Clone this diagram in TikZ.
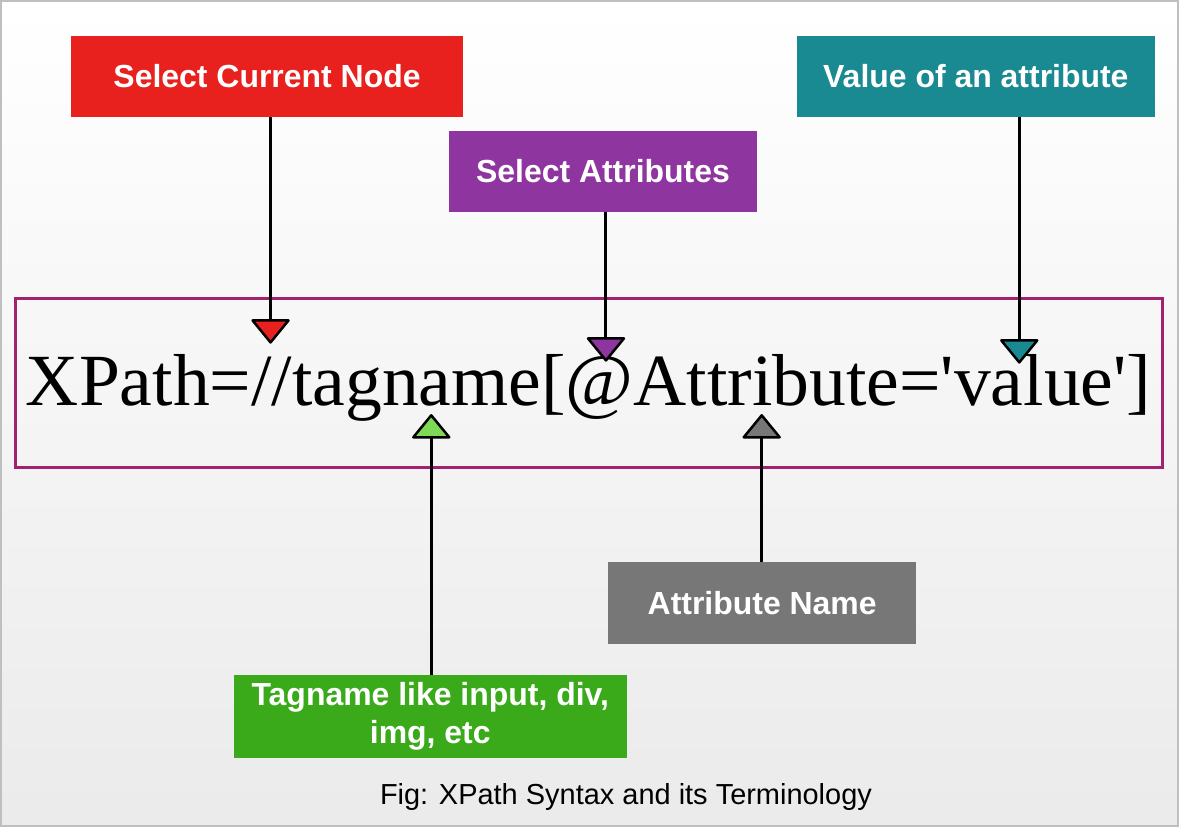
\documentclass[tikz,border=0pt]{standalone}
\usepackage{fontspec}
\setsansfont{Liberation Sans}
\newfontfamily\xpf{Liberation Serif}
\usepackage{graphicx}
\definecolor{cred}{HTML}{E8211F}
\definecolor{cpurple}{HTML}{8E35A0}
\definecolor{cteal}{HTML}{1A8A92}
\definecolor{cgray}{HTML}{777777}
\definecolor{cgreen}{HTML}{3AAA1A}
\definecolor{clgreen}{HTML}{7ED957}
\definecolor{cmag}{HTML}{A3226F}
\begin{document}
\begin{tikzpicture}[x=1pt,y=-1pt,
  lbl/.style={fill=#1,text=white,font=\sffamily\bfseries\fontsize{32}{38}\selectfont,inner sep=0pt,align=center},
  conn/.style={line width=3pt},
  tri/.style={fill=#1,draw=black,line width=2.5pt,line join=round}]
\shade[top color=white,bottom color=black!8] (0,0) rectangle (1179,826);
\draw[black!25,line width=2pt] (0,0) rectangle (1179,826);
\useasboundingbox (0,0) rectangle (1179,826);
\node[lbl=cred,minimum width=393pt,minimum height=81pt] (red) at (266.5,75.5) {Select Current Node};
\node[lbl=cpurple,minimum width=308pt,minimum height=81pt] (pur) at (603,170.5) {Select Attributes};
\node[lbl=cteal,minimum width=359pt,minimum height=81pt] (teal) at (976.5,75.5) {Value of an attribute};
\node[lbl=cgray,minimum width=309pt,minimum height=82pt] (gray) at (762.5,603) {Attribute Name};
\node[lbl=cgreen,minimum width=394pt,minimum height=83pt] (green) at (430,716.5) {Tagname like input, div,\\[0pt] img, etc};
\node[draw=cmag,line width=3pt,minimum width=1148pt,minimum height=169pt,inner sep=0pt] (box) at (589,382.5) {};
\node[inner sep=0pt] (xp) at (588.5,388) {\resizebox{1127pt}{!}{\xpf\fontsize{60}{60}\selectfont XPath=//tagname[@Attribute=\char39 value\char39]}};
\node[font=\sffamily\fontsize{29}{34}\selectfont] (cap) at (626,797) {Fig: XPath Syntax and its Terminology};
% arrows
\coordinate (rt) at (270,320);
\draw[conn] (red.south -| rt) -- (rt);
\draw[tri=cred] (252,320) -- (288,320) -- (270,342) -- cycle;
\coordinate (pt) at (606,338);
\draw[conn] (pur.south -| pt) -- (pt);
\draw[tri=cpurple] (588,338) -- (624,338) -- (606,360) -- cycle;
\coordinate (tt) at (1020,340);
\draw[conn] (teal.south -| tt) -- (tt);
\draw[tri=cteal] (1002,340) -- (1038,340) -- (1020,362) -- cycle;
\coordinate (gt) at (431,437);
\draw[conn] (green.north -| gt) -- (gt);
\draw[tri=clgreen] (413,437) -- (449,437) -- (431,415) -- cycle;
\coordinate (at) at (762,437);
\draw[conn] (gray.north -| at) -- (at);
\draw[tri=cgray] (744,437) -- (780,437) -- (762,415) -- cycle;
\end{tikzpicture}
\end{document}
